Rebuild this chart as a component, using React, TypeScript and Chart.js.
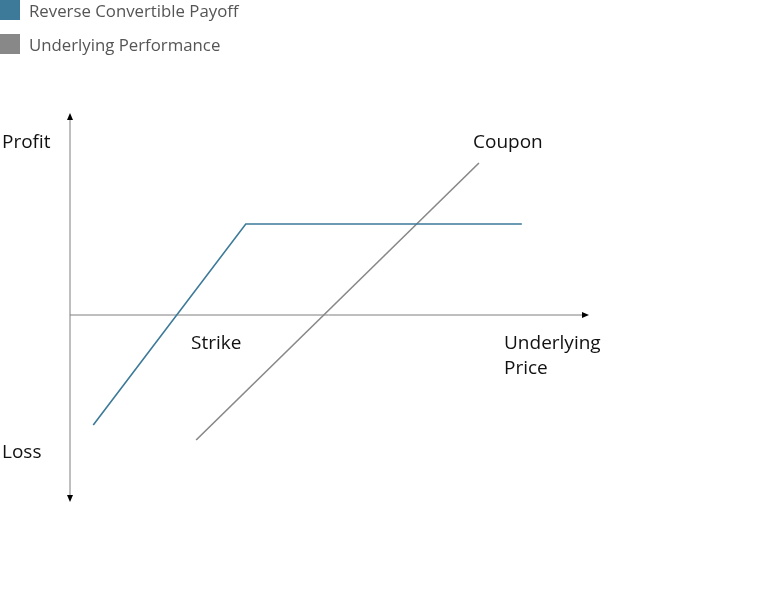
import React, { useEffect, useRef } from "react";
import Chart from "chart.js/auto";

// schematic payoff diagram, x: underlying price (0..100), y: profit/loss
const payoffX = [4.5, 34, 87.4];
const payoffY = [-55, 45.5, 45.5];
const underlyingX = [24.4, 79.1];
const underlyingY = [-62.5, 76];

const seriesNames = ["Reverse Convertible Payoff", "Underlying Performance"];
const seriesColors = ["#3d7a99", "#888888"];

const FONT = "'Open Sans', 'Noto Sans', sans-serif";

const toPoints = (xs: number[], ys: number[]) => xs.map((x, i) => ({ x, y: ys[i] }));

const diagramPlugin = {
  id: "diagram",
  beforeDatasetsDraw(chart: any) {
    const { ctx, scales } = chart;
    const xs = scales.x;
    const ys = scales.y;
    const x0 = xs.getPixelForValue(0);
    const y0 = ys.getPixelForValue(0);
    const top = ys.getPixelForValue(ys.max);
    const bottom = ys.getPixelForValue(ys.min);
    const right = xs.getPixelForValue(xs.max);

    ctx.save();
    ctx.strokeStyle = "#7f7f7f";
    ctx.lineWidth = 1;
    ctx.beginPath();
    ctx.moveTo(x0, top);
    ctx.lineTo(x0, bottom);
    ctx.moveTo(x0, y0);
    ctx.lineTo(right, y0);
    ctx.stroke();

    // arrow heads
    ctx.fillStyle = "#000";
    ctx.beginPath();
    ctx.moveTo(x0, top - 2);
    ctx.lineTo(x0 - 3, top + 5);
    ctx.lineTo(x0 + 3, top + 5);
    ctx.closePath();
    ctx.fill();
    ctx.beginPath();
    ctx.moveTo(x0, bottom + 2);
    ctx.lineTo(x0 - 3, bottom - 5);
    ctx.lineTo(x0 + 3, bottom - 5);
    ctx.closePath();
    ctx.fill();
    ctx.beginPath();
    ctx.moveTo(right + 2, y0);
    ctx.lineTo(right - 5, y0 - 3);
    ctx.lineTo(right - 5, y0 + 3);
    ctx.closePath();
    ctx.fill();
    ctx.restore();
  },
  afterDraw(chart: any) {
    const { ctx } = chart;
    ctx.save();

    // legend, stacked in the top-left corner
    ctx.font = `16.8px ${FONT}`;
    ctx.textBaseline = "middle";
    ctx.textAlign = "left";
    chart.data.datasets.forEach((ds: any, i: number) => {
      const y = i * 34;
      ctx.fillStyle = ds.borderColor;
      ctx.fillRect(0, y, 20, 20);
      ctx.fillStyle = "#555";
      ctx.fillText(ds.label, 29, y + 12);
    });

    // axis and point labels
    ctx.font = `19px ${FONT}`;
    ctx.fillStyle = "#111";
    ctx.fillText("Profit", 2, 142.5);
    ctx.fillText("Loss", 2, 452.5);
    ctx.fillText("Strike", 191, 343.5);
    ctx.fillText("Underlying", 504, 343.5);
    ctx.fillText("Price", 504, 368.5);
    ctx.fillText("Coupon", 473, 142.5);
    ctx.restore();
  },
};

const App: React.FC = () => {
  const chartRef = useRef<HTMLCanvasElement>(null);

  useEffect(() => {
    if (!chartRef.current) return;
    const myChart = new Chart(chartRef.current, {
      type: "scatter",
      data: {
        datasets: [
          {
            label: seriesNames[0],
            data: toPoints(payoffX, payoffY),
            borderColor: seriesColors[0],
            backgroundColor: seriesColors[0],
            borderWidth: 1.6,
            showLine: true,
            pointRadius: 0,
          },
          {
            label: seriesNames[1],
            data: toPoints(underlyingX, underlyingY),
            borderColor: seriesColors[1],
            backgroundColor: seriesColors[1],
            borderWidth: 1.6,
            showLine: true,
            pointRadius: 0,
          },
        ],
      },
      options: {
        animation: false,
        responsive: false,
        layout: { padding: { left: 70, right: 182, top: 115, bottom: 101 } },
        plugins: {
          legend: { display: false },
          tooltip: { enabled: false },
        },
        scales: {
          x: { type: "linear", min: 0, max: 100, display: false },
          y: { type: "linear", min: -92.5, max: 100, display: false },
        },
      },
      plugins: [diagramPlugin],
    });

    return () => {
      myChart.destroy();
    };
  }, []);

  return (
    <div style={{ position: "fixed", left: 0, top: 0, width: 769, height: 601, background: "#fff" }}>
      <canvas ref={chartRef} width={769} height={601} style={{ width: 769, height: 601 }} />
    </div>
  );
};

export default App;
